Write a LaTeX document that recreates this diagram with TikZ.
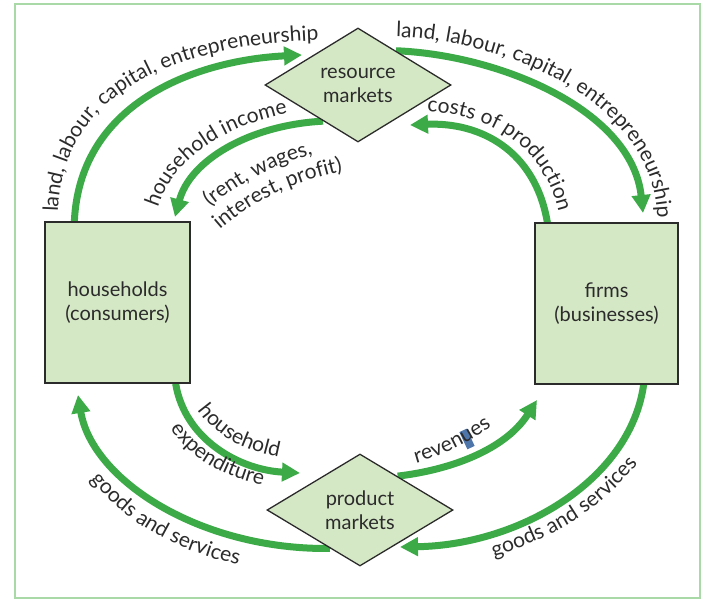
\documentclass[tikz,border=0pt]{standalone}
\usepackage{fontspec}
\setmainfont{Lato}
\usetikzlibrary{arrows.meta,shapes.geometric,decorations.text,backgrounds}
\definecolor{flowgreen}{HTML}{3BAA47}
\definecolor{boxfill}{HTML}{D5E8C6}
\definecolor{framegreen}{HTML}{A9D9A6}
\definecolor{ink}{HTML}{2B2B2B}
\definecolor{hlblue}{HTML}{2F5E9C}
\newcommand{\curvefont}{\fontsize{21}{24}\selectfont}
\tikzset{
  box/.style={draw=ink, line width=1.3pt, fill=boxfill, align=center, text=ink,
    font=\fontsize{20}{24}\selectfont, inner sep=0pt},
  market/.style={box, diamond, aspect=1.63, minimum width=186pt, minimum height=114pt},
  flow/.style={draw=flowgreen, line width=7pt, -{Triangle[length=18pt,width=18pt]}},
  ctext/.style={decorate, decoration={text along path, text color=ink}}
}
\begin{document}
\begin{tikzpicture}[x=1pt,y=1pt]
\useasboundingbox (0,0) rectangle (720,-602);
\draw[framegreen, line width=2pt] (15,-4) rectangle (700,-598);
\node[box, minimum width=145pt, minimum height=161pt] (hh) at (117.5,-302.5) {households\\(consumers)};
\node[box, minimum width=143pt, minimum height=161pt] (fi) at (606.5,-303.5) {firms\\(businesses)};
\node[market] (res) at (358,-85) {resource\\markets};
\node[market, minimum height=112pt] (prod) at (360,-510) {product\\markets};
\coordinate (t1) at (302,-55);
\coordinate (t2) at (175,-217);
\coordinate (t3) at (643,-213);
\coordinate (t4) at (410,-125);
\coordinate (t5) at (300,-473);
\coordinate (t6) at (78,-395);
\coordinate (t7) at (537,-400);
\coordinate (t8) at (400,-547);
\begin{pgfonlayer}{background}
\draw[flow] ([xshift=30pt]hh.north west) .. controls (80,-100) and (200,-60) .. (t1);
\draw[flow] (res.226) .. controls (250,-125) and (190,-160) .. (t2);
\draw[flow] (res.42) .. controls (500,-55) and (632,-110) .. (t3);
\draw[flow] ([xshift=13pt]fi.north west) .. controls (535,-150) and (480,-122) .. (t4);
\draw[flow] ([xshift=-15pt]hh.south east) .. controls (185,-440) and (240,-470) .. (t5);
\draw[flow] (prod.232) .. controls (200,-550) and (92,-480) .. (t6);
\draw[flow] (prod.42) .. controls (450,-470) and (505,-450) .. (t7);
\draw[flow] ([xshift=-35pt]fi.south east) .. controls (630,-480) and (520,-545) .. (t8);
\end{pgfonlayer}
\node[fill=hlblue, opacity=0.85, minimum width=8pt, minimum height=19pt, inner sep=0pt, rotate=25] (hl) at (467,-439) {};
\path[ctext, decoration={text={|\curvefont|land, labour, capital, entrepreneurship}}]
  (58,-212) .. controls (62,-85) and (190,-40) .. (340,-40) -- (380,-40);
\path[ctext, decoration={text={|\curvefont|household income}}]
  (158,-208) .. controls (176,-150) and (245,-113) .. (330,-108);
\path[ctext, decoration={text={|\curvefont|(rent, wages,}}]
  (210,-207) .. controls (240,-183) and (275,-162) .. (330,-150);
\path[ctext, decoration={text={|\curvefont|interest, profit)}}]
  (220,-230) .. controls (252,-202) and (292,-180) .. (358,-168);
\path[ctext, decoration={text={|\curvefont|land, labour, capital, entrepreneurship}}]
  (396,-37) .. controls (508,-40) and (650,-102) .. (657,-213) -- (659,-280);
\path[ctext, decoration={text={|\curvefont|costs of production}, text align={left indent=17pt}}]
  (410,-112) .. controls (484,-109) and (548,-143) .. (561,-223) -- (562,-260);
\path[ctext, decoration={text={|\curvefont|household}}]
  (198,-410) .. controls (222,-444) and (258,-458) .. (320,-462);
\path[ctext, decoration={text={|\curvefont|expenditure}}]
  (171,-428) .. controls (191,-460) and (226,-481) .. (292,-491);
\path[ctext, decoration={text={|\curvefont|goods and services}}]
  (91,-479) .. controls (130,-529) and (190,-560) .. (285,-574);
\path[ctext, decoration={text={|\curvefont|revenues}}]
  (416,-463) .. controls (445,-455) and (478,-440) .. (520,-405);
\path[ctext, decoration={text={|\curvefont|goods and services}}]
  (494,-557) .. controls (560,-535) and (612,-505) .. (655,-440);
\end{tikzpicture}
\end{document}
